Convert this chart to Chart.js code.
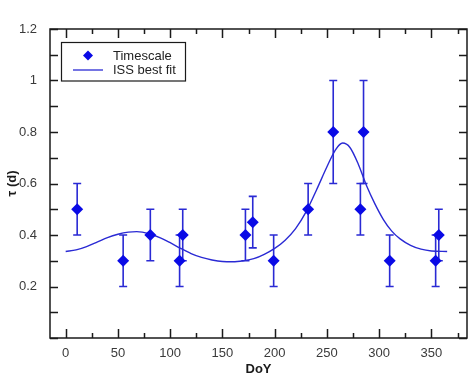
<!DOCTYPE html>
<html>
<head>
<meta charset="utf-8">
<script src="https://cdn.jsdelivr.net/npm/chart.js@4/dist/chart.umd.min.js"></script>
<style>
  html, body { margin: 0; padding: 0; background: #fff; }
  #wrap { width: 474px; height: 377px; }
</style>
</head>
<body>
<div id="wrap"><canvas id="tauChart"></canvas></div>
<script>
// Measured timescales (day of year, tau in days, error bar ends)
const doy     = [11, 55, 81, 109, 112, 172, 179, 199, 232, 256, 282, 285, 310, 354, 357];
const tau     = [0.5, 0.3, 0.4, 0.3, 0.4, 0.4, 0.45, 0.3, 0.5, 0.8, 0.5, 0.8, 0.3, 0.3, 0.4];
const tauLow  = [0.4, 0.2, 0.3, 0.2, 0.3, 0.3, 0.35, 0.2, 0.4, 0.6, 0.4, 0.6, 0.2, 0.2, 0.3];
const tauHigh = [0.6, 0.4, 0.5, 0.4, 0.5, 0.5, 0.55, 0.4, 0.6, 1.0, 0.6, 1.0, 0.4, 0.4, 0.5];

// ISS best fit curve
const fitDoy = [0, 10, 20, 30, 40, 50, 60, 68, 80, 90, 100, 110, 120, 130, 140, 150, 160, 170, 180, 190,
                200, 210, 220, 230, 240, 250, 258, 265, 272, 280, 288, 296, 304, 312, 320, 330, 340, 350, 365];
const fitTau = [0.336, 0.342, 0.355, 0.372, 0.39, 0.403, 0.411, 0.413, 0.405, 0.39, 0.37, 0.348, 0.328, 0.313, 0.303, 0.297, 0.296, 0.3, 0.308, 0.325,
                0.348, 0.38, 0.425, 0.49, 0.575, 0.665, 0.73, 0.757, 0.74, 0.675, 0.59, 0.52, 0.46, 0.415, 0.385, 0.36, 0.345, 0.338, 0.336];

const xTicks = [0, 25, 50, 75, 100, 125, 150, 175, 200, 225, 250, 275, 300, 325, 350, 375];
const yTicks = [0, 0.1, 0.2, 0.3, 0.4, 0.5, 0.6, 0.7, 0.8, 0.9, 1.0, 1.1, 1.2];

const FONT = "'Liberation Sans', Arial, sans-serif";
const markerBlue = '#0a0ae6';
const lineBlue = '#2a2ad4';

const ctx = document.getElementById('tauChart').getContext('2d');

// error bars under the markers
const errorBars = {
    id: 'errorBars',
    beforeDatasetsDraw(chart) {
        const { ctx, scales: { x, y } } = chart;
        ctx.save();
        ctx.strokeStyle = lineBlue;
        ctx.lineWidth = 1.6;
        for (let i = 0; i < doy.length; i++) {
            const px = x.getPixelForValue(doy[i]);
            const lo = y.getPixelForValue(tauLow[i]);
            const hi = y.getPixelForValue(tauHigh[i]);
            ctx.beginPath();
            ctx.moveTo(px, lo); ctx.lineTo(px, hi);
            ctx.moveTo(px - 4, lo); ctx.lineTo(px + 4, lo);
            ctx.moveTo(px - 4, hi); ctx.lineTo(px + 4, hi);
            ctx.stroke();
        }
        ctx.restore();
    }
};

// box frame with inward ticks on all four sides
const frame = {
    id: 'frame',
    afterDatasetsDraw(chart) {
        const { ctx, chartArea: a, scales: { x, y } } = chart;
        ctx.save();
        ctx.strokeStyle = '#1a1a1a';
        ctx.lineWidth = 1.5;
        ctx.strokeRect(a.left, a.top, a.right - a.left, a.bottom - a.top);
        ctx.beginPath();
        xTicks.forEach(v => {
            const px = Math.round(x.getPixelForValue(v)) + 0.5;
            const len = v % 50 === 0 ? 9 : 5;
            ctx.moveTo(px, a.bottom); ctx.lineTo(px, a.bottom - len);
            ctx.moveTo(px, a.top); ctx.lineTo(px, a.top + len);
        });
        yTicks.forEach(v => {
            const py = Math.round(y.getPixelForValue(v)) + 0.5;
            const len = 8;
            ctx.moveTo(a.left, py); ctx.lineTo(a.left + len, py);
            ctx.moveTo(a.right, py); ctx.lineTo(a.right - len, py);
        });
        ctx.stroke();
        ctx.restore();
    }
};

// legend box in the upper left
const legendBox = {
    id: 'legendBox',
    afterDraw(chart) {
        const { ctx } = chart;
        ctx.save();
        ctx.fillStyle = '#fff';
        ctx.fillRect(61.5, 42.5, 124, 38.5);
        ctx.strokeStyle = '#1a1a1a';
        ctx.lineWidth = 1.2;
        ctx.strokeRect(61.5, 42.5, 124, 38.5);
        // diamond
        ctx.fillStyle = markerBlue;
        ctx.beginPath();
        ctx.moveTo(88, 50.5); ctx.lineTo(93, 55.5); ctx.lineTo(88, 60.5); ctx.lineTo(83, 55.5);
        ctx.closePath();
        ctx.fill();
        // line
        ctx.strokeStyle = lineBlue;
        ctx.lineWidth = 1.3;
        ctx.beginPath();
        ctx.moveTo(73, 70); ctx.lineTo(103, 70);
        ctx.stroke();
        ctx.fillStyle = '#222';
        ctx.font = `13px ${FONT}`;
        ctx.textBaseline = 'middle';
        ctx.fillText('Timescale', 113, 56);
        ctx.fillText('ISS best fit', 113, 70.5);
        ctx.restore();
    }
};

const chart = new Chart(ctx, {
    type: 'scatter',
    data: {
        datasets: [
            {
                label: 'Timescale',
                data: doy.map((d, i) => ({ x: d, y: tau[i] })),
                pointStyle: 'rectRot',
                pointRadius: 6,
                backgroundColor: markerBlue,
                borderColor: markerBlue,
                borderWidth: 0,
                showLine: false
            },
            {
                label: 'ISS best fit',
                data: fitDoy.map((d, i) => ({ x: d, y: fitTau[i] })),
                showLine: true,
                borderColor: lineBlue,
                borderWidth: 1.4,
                pointRadius: 0,
                cubicInterpolationMode: 'monotone',
                fill: false
            }
        ]
    },
    options: {
        responsive: true,
        maintainAspectRatio: false,
        animation: false,
        layout: { padding: { left: 0, top: 29, right: 7, bottom: 0 } },
        plugins: {
            legend: { display: false },
            tooltip: { enabled: false }
        },
        scales: {
            x: {
                type: 'linear',
                min: -15,
                max: 384,
                grid: { display: false, drawTicks: false },
                border: { display: false },
                afterBuildTicks: s => { s.ticks = xTicks.map(v => ({ value: v })); },
                afterFit: s => { s.height = 39; },
                ticks: {
                    autoSkip: false,
                    maxRotation: 0,
                    padding: 8,
                    color: '#3a3a3a',
                    font: { family: FONT, size: 13 },
                    callback: v => (v % 50 === 0 && v <= 350) ? String(v) : ''
                },
                title: {
                    display: true,
                    text: 'DoY',
                    color: '#1a1a1a',
                    font: { family: FONT, size: 13, weight: 'bold' },
                    padding: { top: 0, bottom: 0 }
                }
            },
            y: {
                type: 'linear',
                min: 0,
                max: 1.2,
                grid: { display: false, drawTicks: false },
                border: { display: false },
                afterBuildTicks: s => { s.ticks = yTicks.map(v => ({ value: v })); },
                afterFit: s => { s.width = 50; },
                ticks: {
                    autoSkip: false,
                    padding: 13,
                    color: '#3a3a3a',
                    font: { family: FONT, size: 13 },
                    callback: v => {
                        const r = Math.round(v * 10);
                        if (r === 0 || r % 2 !== 0) return '';
                        return r === 10 ? '1' : String(+(r / 10).toFixed(1));
                    }
                },
                title: {
                    display: true,
                    text: 'τ (d)',
                    color: '#1a1a1a',
                    font: { family: FONT, size: 13, weight: 'bold' },
                    padding: { top: 5, bottom: 0 }
                }
            }
        }
    },
    plugins: [errorBars, frame, legendBox]
});
</script>
</body>
</html>
